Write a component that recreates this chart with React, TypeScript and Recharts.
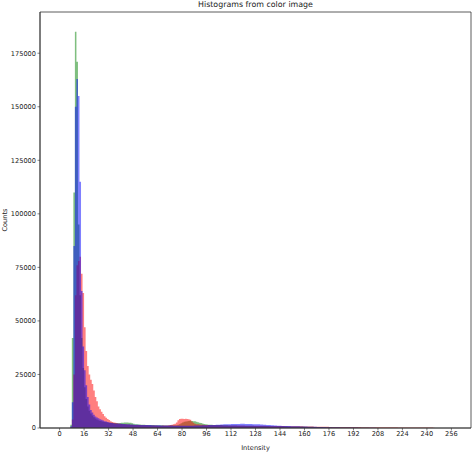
import { Area, ComposedChart, ReferenceArea, XAxis, YAxis } from 'recharts';

// counts per intensity bin (256 bins, 0..255)
const redCounts = [
  0, 0, 0, 0, 0, 0, 0, 500, 4000, 25000, 62000, 76000, 78000, 80000, 72000, 63000,
  47000, 36000, 29000, 25000, 22500, 20500, 17500, 14500, 12500, 10000, 8800, 7600, 6500, 5500, 4800, 4200,
  3700, 3200, 2800, 2600, 2400, 2200, 2100, 2000, 1900, 1800, 1750, 1700, 1650, 1600, 1550, 1500,
  1450, 1400, 1400, 1350, 1350, 1300, 1300, 1300, 1250, 1250, 1200, 1200, 1200, 1150, 1150, 1150,
  1100, 1100, 1100, 1150, 1150, 1200, 1200, 1300, 1400, 1500, 1700, 2000, 2600, 3600, 4200, 4300,
  4300, 4200, 4300, 4200, 4100, 3800, 3000, 2400, 2000, 1800, 1700, 1600, 1500, 1500, 1400, 1400,
  1400, 1350, 1300, 1300, 1300, 1300, 1280, 1260, 1250, 1240, 1230, 1220, 1210, 1200, 1200, 1190,
  1180, 1170, 1160, 1150, 1150, 1140, 1130, 1120, 1110, 1100, 1100, 1090, 1080, 1070, 1060, 1050,
  1050, 1040, 1030, 1020, 1010, 1000, 1000, 990, 980, 970, 960, 950, 940, 930, 920, 910,
  900, 890, 880, 870, 860, 850, 840, 830, 820, 810, 800, 790, 780, 770, 760, 750,
  740, 720, 700, 690, 680, 660, 640, 620, 600, 590, 580, 570, 560, 550, 540, 530,
  520, 510, 500, 495, 490, 485, 480, 475, 470, 465, 460, 455, 450, 445, 440, 435,
  430, 425, 420, 415, 410, 405, 400, 395, 390, 385, 380, 375, 370, 365, 360, 355,
  350, 345, 340, 335, 330, 325, 320, 315, 310, 305, 300, 300, 295, 290, 285, 280,
  280, 275, 270, 265, 260, 260, 255, 250, 250, 245, 240, 240, 235, 230, 230, 225,
  220, 215, 210, 200, 150, 0, 0, 0, 0, 0, 0, 0, 0, 0, 0, 0,
];

const greenCounts = [
  0, 0, 0, 0, 0, 0, 0, 1500, 42000, 110000, 185000, 171000, 95000, 62000, 42000, 28000,
  19000, 13500, 10000, 8000, 6800, 5800, 5000, 4400, 4000, 3600, 3300, 3100, 2900, 2800, 2700, 2600,
  2500, 2450, 2400, 2350, 2300, 2300, 2250, 2300, 2400, 2500, 2600, 2600, 2550, 2500, 2400, 2200,
  2000, 1800, 1700, 1650, 1600, 1550, 1500, 1500, 1450, 1450, 1400, 1400, 1350, 1350, 1300, 1300,
  1300, 1250, 1250, 1250, 1200, 1200, 1200, 1200, 1250, 1250, 1300, 1300, 1300, 1500, 1800, 2200,
  2600, 2900, 3000, 3100, 3300, 3400, 3300, 3200, 3100, 2900, 2700, 2500, 2300, 2100, 1900, 1700,
  1600, 1550, 1500, 1500, 1450, 1450, 1400, 1400, 1350, 1350, 1300, 1300, 1250, 1250, 1200, 1200,
  1200, 1150, 1150, 1150, 1100, 1100, 1100, 1100, 1050, 1050, 1050, 1000, 1000, 1000, 1000, 980,
  960, 950, 940, 930, 920, 910, 900, 890, 880, 870, 860, 850, 840, 830, 820, 810,
  800, 790, 780, 770, 760, 750, 740, 730, 720, 710, 700, 690, 680, 670, 660, 650,
  640, 620, 600, 580, 560, 540, 520, 500, 480, 460, 440, 420, 400, 380, 360, 340,
  320, 300, 290, 280, 270, 260, 250, 240, 230, 220, 210, 200, 190, 180, 170, 160,
  150, 140, 130, 120, 110, 100, 90, 80, 70, 60, 50, 40, 30, 20, 10, 0,
  0, 0, 0, 0, 0, 0, 0, 0, 0, 0, 0, 0, 0, 0, 0, 0,
  0, 0, 0, 0, 0, 0, 0, 0, 0, 0, 0, 0, 0, 0, 0, 0,
  0, 0, 0, 0, 0, 0, 0, 0, 0, 0, 0, 0, 0, 0, 0, 0,
];

const blueCounts = [
  0, 0, 0, 0, 0, 0, 0, 800, 12000, 85000, 150000, 163000, 155000, 115000, 64000, 38000,
  27000, 20000, 14500, 11000, 8400, 7200, 6200, 5400, 4900, 4500, 4100, 3800, 3500, 3200, 3000, 2800,
  2600, 2450, 2300, 2200, 2150, 2100, 2050, 2000, 1950, 1900, 1850, 1800, 1750, 1700, 1650, 1600,
  1550, 1550, 1500, 1500, 1450, 1450, 1400, 1400, 1400, 1350, 1350, 1350, 1300, 1300, 1300, 1250,
  1250, 1250, 1200, 1200, 1200, 1200, 1150, 1150, 1150, 1150, 1100, 1100, 1100, 1100, 1100, 1100,
  1100, 1100, 1100, 1100, 1100, 1100, 1100, 1100, 1150, 1150, 1150, 1200, 1200, 1250, 1250, 1300,
  1300, 1350, 1350, 1400, 1400, 1450, 1500, 1500, 1550, 1600, 1650, 1700, 1700, 1750, 1800, 1800,
  1850, 1850, 1900, 1900, 1900, 1900, 1950, 1950, 1950, 1900, 1900, 1900, 1850, 1850, 1800, 1800,
  1750, 1700, 1700, 1650, 1600, 1550, 1500, 1450, 1400, 1350, 1300, 1250, 1200, 1150, 1100, 1050,
  1000, 980, 960, 940, 920, 900, 880, 860, 840, 820, 800, 780, 760, 740, 720, 700,
  680, 660, 640, 620, 600, 580, 560, 540, 520, 500, 480, 460, 440, 420, 400, 380,
  360, 350, 340, 330, 320, 310, 300, 290, 280, 270, 260, 250, 240, 230, 220, 210,
  200, 190, 180, 170, 160, 150, 140, 130, 120, 110, 100, 90, 80, 70, 60, 50,
  40, 30, 20, 10, 0, 0, 0, 0, 0, 0, 0, 0, 0, 0, 0, 0,
  0, 0, 0, 0, 0, 0, 0, 0, 0, 0, 0, 0, 0, 0, 0, 0,
  0, 0, 0, 0, 0, 0, 0, 0, 0, 0, 0, 0, 0, 0, 0, 0,
];

const xTicks = [0, 16, 32, 48, 64, 80, 96, 112, 128, 144, 160, 176, 192, 208, 224, 240, 256];
const yTicks = [0, 25000, 50000, 75000, 100000, 125000, 150000, 175000];

const X_DOMAIN: [number, number] = [-12.8, 268.8];
const Y_DOMAIN: [number, number] = [0, 194250];

// one point per bin edge; the last edge repeats bin 255 so the step closes
const chartData = redCounts.concat([redCounts[255]]).map((r, edge) => {
  const bin = Math.min(edge, 255);
  return { intensity: edge, red: redCounts[bin], green: greenCounts[bin], blue: blueCounts[bin] };
});

const FONT = '"DejaVu Sans", sans-serif';
const tickStyle = { fontSize: 6.6, fill: '#222', fontFamily: FONT };

function CountsLabel({ viewBox }: any) {
  const cx = viewBox.x + 5;
  const cy = viewBox.y + viewBox.height / 2;
  return (
    <text
      x={cx}
      y={cy}
      fontSize={6.6}
      fill='#222'
      fontFamily={FONT}
      textAnchor='middle'
      dominantBaseline='central'
      transform={`rotate(-90, ${cx}, ${cy})`}
    >
      Counts
    </text>
  );
}

export default function App() {
  return (
    <div style={{ position: 'absolute', left: 0, top: 0, width: 474, height: 452, background: '#fff', fontFamily: FONT }}>
      <div
        style={{
          position: 'absolute',
          left: 40,
          top: 0,
          width: 431,
          textAlign: 'center',
          fontSize: 7.9,
          lineHeight: '10px',
          color: '#222'
        }}
      >
        Histograms from color image
      </div>
      <ComposedChart
        width={474}
        height={452}
        data={chartData}
        margin={{ top: 12, right: 3, bottom: 0, left: 0 }}
      >
        <XAxis
          allowDataOverflow
          axisLine={{ stroke: '#333', strokeWidth: 0.8 }}
          dataKey='intensity'
          domain={X_DOMAIN}
          height={24}
          interval={0}
          label={{ value: 'Intensity', position: 'insideBottom', offset: 2, fontSize: 6.6, fill: '#222', fontFamily: FONT }}
          tick={tickStyle}
          tickLine={{ stroke: '#333', strokeWidth: 0.6 }}
          tickMargin={1}
          tickSize={2.5}
          ticks={xTicks}
          type='number'
        />
        <YAxis
          allowDataOverflow
          axisLine={{ stroke: '#333', strokeWidth: 0.8 }}
          domain={Y_DOMAIN}
          interval={0}
          label={<CountsLabel />}
          tick={tickStyle}
          tickLine={{ stroke: '#333', strokeWidth: 0.6 }}
          tickMargin={1.5}
          tickSize={2.5}
          ticks={yTicks}
          type='number'
          width={40}
        />

        {/* matplotlib draws green, then red, then blue on top */}
        <Area
          activeDot={false}
          dataKey='green'
          dot={false}
          fill='#008000'
          fillOpacity={0.5}
          isAnimationActive={false}
          stroke='none'
          type='stepAfter'
        />
        <Area
          activeDot={false}
          dataKey='red'
          dot={false}
          fill='#ff0000'
          fillOpacity={0.5}
          isAnimationActive={false}
          stroke='none'
          type='stepAfter'
        />
        <Area
          activeDot={false}
          dataKey='blue'
          dot={false}
          fill='#0000ff'
          fillOpacity={0.5}
          isAnimationActive={false}
          stroke='none'
          type='stepAfter'
        />

        {/* frame (all four spines) */}
        <ReferenceArea
          x1={X_DOMAIN[0]}
          x2={X_DOMAIN[1]}
          y1={Y_DOMAIN[0]}
          y2={Y_DOMAIN[1]}
          fill='none'
          fillOpacity={0}
          stroke='#333'
          strokeWidth={0.8}
          ifOverflow='visible'
        />
      </ComposedChart>
    </div>
  );
}
